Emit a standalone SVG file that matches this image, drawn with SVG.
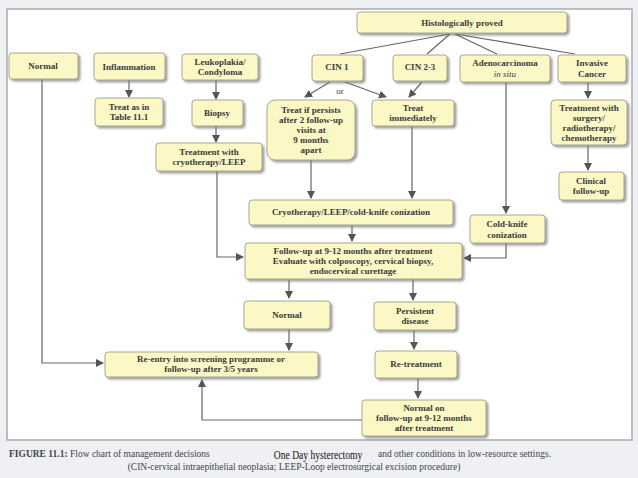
<svg xmlns="http://www.w3.org/2000/svg" width="638" height="478" viewBox="0 0 638 478">
<defs>
<marker id="ar" markerWidth="8" markerHeight="8" refX="7" refY="4" orient="auto" markerUnits="userSpaceOnUse"><path d="M0,0 L8,4 L0,8 Z" fill="#555"/></marker>
<filter id="sh" x="-10%" y="-10%" width="130%" height="140%"><feDropShadow dx="2" dy="2" stdDeviation="0.8" flood-color="#777" flood-opacity="0.7"/></filter>
</defs>
<style>
.b{fill:#fbf8c6;stroke:#a8a890;stroke-width:1;filter:url(#sh)}
.t{font-family:"Liberation Serif",serif;font-size:9px;font-weight:bold;fill:#3a3a3a;text-anchor:middle}
.c line,.c polyline{stroke:#666;stroke-width:1.2;fill:none}
.a{marker-end:url(#ar)}
.cap{font-family:"Liberation Serif",serif;font-size:9.5px;fill:#444}
</style>
<rect width="638" height="478" fill="#eef0f4"/>
<rect x="7" y="9" width="625" height="431" fill="#fff" stroke="#aaa" stroke-width="1.5"/>
<g class="c">
<line x1="450" y1="34" x2="340" y2="54"/>
<line x1="450" y1="34" x2="427" y2="54"/>
<line x1="455" y1="34" x2="497" y2="54"/>
<line x1="455" y1="34" x2="575" y2="54"/>
<line class="a" x1="330" y1="82" x2="305" y2="97"/>
<line class="a" x1="345" y1="82" x2="386" y2="97"/>
<line class="a" x1="422" y1="82" x2="409" y2="97"/>
<line class="a" x1="129" y1="80" x2="129" y2="97"/>
<line class="a" x1="216" y1="80" x2="216" y2="99"/>
<line class="a" x1="216" y1="126" x2="216" y2="142"/>
<line class="a" x1="311" y1="160" x2="311" y2="198"/>
<line class="a" x1="412" y1="126" x2="412" y2="198"/>
<line class="a" x1="352" y1="225" x2="352" y2="241"/>
<polyline class="a" points="217,171 217,257 243,257"/>
<line class="a" x1="506" y1="82" x2="506" y2="213"/>
<polyline class="a" points="506,243 506,258 464,258"/>
<line class="a" x1="588" y1="82" x2="588" y2="98"/>
<line class="a" x1="588" y1="145" x2="588" y2="170"/>
<line class="a" x1="289" y1="279" x2="289" y2="298"/>
<line class="a" x1="413" y1="279" x2="413" y2="300"/>
<line class="a" x1="289" y1="329" x2="289" y2="350"/>
<polyline class="a" points="42,79 42,363 103,363"/>
<line class="a" x1="414" y1="330" x2="414" y2="349"/>
<line class="a" x1="418" y1="378" x2="418" y2="398"/>
<polyline class="a" points="362,420 202,420 202,380"/>
</g>
<text class="t" x="340" y="94" style="font-weight:normal">or</text>
<g id="hist"><rect class="b" x="357" y="12" width="210" height="21" rx="3"/><text class="t" x="462" y="26">Histologically proved</text></g>
<g id="normal"><rect class="b" x="9" y="53" width="69" height="26" rx="3"/><text class="t" x="43" y="69">Normal</text></g>
<g id="infl"><rect class="b" x="94" y="53" width="71" height="27" rx="3"/><text class="t" x="129" y="70">Inflammation</text></g>
<g id="leuko"><rect class="b" x="182" y="54" width="76" height="26" rx="3"/><text class="t" x="220" y="65">Leukoplakia/</text><text class="t" x="220" y="75">Condyloma</text></g>
<g id="cin1"><rect class="b" x="312" y="55" width="51" height="26" rx="3"/><text class="t" x="337" y="70">CIN 1</text></g>
<g id="cin23"><rect class="b" x="393" y="55" width="54" height="26" rx="3"/><text class="t" x="420" y="70">CIN 2-3</text></g>
<g id="adeno"><rect class="b" x="460" y="55" width="90" height="27" rx="3"/><text class="t" x="505" y="66">Adenocarcinoma</text><text class="t" x="505" y="77" style="font-style:italic;font-weight:normal">in situ</text></g>
<g id="inv"><rect class="b" x="558" y="55" width="68" height="27" rx="3"/><text class="t" x="592" y="66">Invasive</text><text class="t" x="592" y="77">Cancer</text></g>
<g id="table"><rect class="b" x="95" y="98" width="68" height="28" rx="3"/><text class="t" x="129" y="110">Treat as in</text><text class="t" x="129" y="120">Table 11.1</text></g>
<g id="biopsy"><rect class="b" x="192" y="100" width="51" height="26" rx="3"/><text class="t" x="217" y="116">Biopsy</text></g>
<g id="persist"><rect class="b" x="267" y="100" width="88" height="60" rx="8"/><text class="t" x="311" y="113">Treat if persists</text><text class="t" x="311" y="123">after 2 follow-up</text><text class="t" x="311" y="133">visits at</text><text class="t" x="311" y="143">9 months</text><text class="t" x="311" y="153">apart</text></g>
<g id="immed"><rect class="b" x="372" y="100" width="82" height="26" rx="3"/><text class="t" x="413" y="111">Treat</text><text class="t" x="413" y="121">immediately</text></g>
<g id="surg"><rect class="b" x="551" y="100" width="76" height="45" rx="4"/><text class="t" x="589" y="111">Treatment with</text><text class="t" x="589" y="121">surgery/</text><text class="t" x="589" y="131">radiotherapy/</text><text class="t" x="589" y="141">chemotherapy</text></g>
<g id="cryo1"><rect class="b" x="156" y="143" width="106" height="28" rx="3"/><text class="t" x="209" y="155">Treatment with</text><text class="t" x="209" y="165">cryotherapy/LEEP</text></g>
<g id="clin"><rect class="b" x="559" y="172" width="65" height="28" rx="3"/><text class="t" x="591" y="184">Clinical</text><text class="t" x="591" y="194">follow-up</text></g>
<g id="cryo2"><rect class="b" x="249" y="200" width="204" height="25" rx="3"/><text class="t" x="351" y="215">Cryotherapy/LEEP/cold-knife conization</text></g>
<g id="cold"><rect class="b" x="470" y="215" width="75" height="28" rx="3"/><text class="t" x="507" y="227">Cold-knife</text><text class="t" x="507" y="238">conization</text></g>
<g id="fu"><rect class="b" x="245" y="243" width="217" height="36" rx="3"/><text class="t" x="353" y="254">Follow-up at 9-12 months after treatment</text><text class="t" x="353" y="264">Evaluate with colposcopy, cervical biopsy,</text><text class="t" x="353" y="274">endocervical curettage</text></g>
<g id="normal2"><rect class="b" x="244" y="301" width="86" height="28" rx="3"/><text class="t" x="287" y="318">Normal</text></g>
<g id="pers"><rect class="b" x="374" y="302" width="82" height="28" rx="3"/><text class="t" x="415" y="314">Persistent</text><text class="t" x="415" y="324">disease</text></g>
<g id="reentry"><rect class="b" x="105" y="352" width="213" height="25" rx="3"/><text class="t" x="211" y="362">Re-entry into screening programme or</text><text class="t" x="211" y="372">follow-up after 3/5 years</text></g>
<g id="retreat"><rect class="b" x="375" y="351" width="82" height="27" rx="3"/><text class="t" x="416" y="367">Re-treatment</text></g>
<g id="normon"><rect class="b" x="362" y="400" width="124" height="36" rx="3"/><text class="t" x="424" y="411">Normal on</text><text class="t" x="424" y="421">follow-up at 9-12 months</text><text class="t" x="424" y="431">after treatment</text></g>
<text class="cap" x="9" y="457"><tspan font-weight="bold">FIGURE 11.1:</tspan> Flow chart of management decisions</text>
<text class="cap" x="378" y="457">and other conditions in low-resource settings.</text>
<text class="cap" x="294" y="470" text-anchor="middle">(CIN-cervical intraepithelial neoplasia; LEEP-Loop electrosurgical excision procedure)</text>
<text x="318" y="459" text-anchor="middle" font-family="Liberation Serif,serif" font-size="12" fill="#111" transform="translate(318 0) scale(0.8 1) translate(-318 0)">One Day hysterectomy</text>
</svg>
